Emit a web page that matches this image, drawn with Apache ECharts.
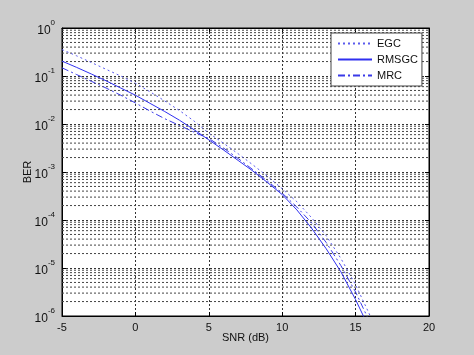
<!DOCTYPE html>
<html>
<head>
<meta charset="utf-8">
<script src="https://cdn.jsdelivr.net/npm/echarts@6/dist/echarts.min.js"></script>
<style>
html,body{margin:0;padding:0;background:#cccccc;}
#c{width:474px;height:355px;}
</style>
</head>
<body>
<div id="c"></div>
<script>
// SNR (dB)
var snr = [-5,-4,-3,-2,-1,0,1,2,3,4,5,6,7,8,9,10,11,12,13,14,15,16];
// BER values
var egc = [0.355,0.263,0.191,0.138,0.100,0.0708,0.0468,0.0302,0.0191,0.0115,0.00646,0.00398,0.00240,0.00141,8.13e-4,4.47e-4,2.40e-4,1.12e-4,4.68e-5,1.58e-5,4.47e-6,1.0e-6];
var rmsgc = [0.204,0.151,0.110,0.0794,0.0562,0.0398,0.0269,0.0182,0.0120,0.00759,0.00468,0.00288,0.00174,0.00105,6.03e-4,3.39e-4,1.62e-4,6.76e-5,2.51e-5,8.32e-6,2.19e-6,5.0e-7];
var mrc = [0.148,0.107,0.0776,0.0562,0.0398,0.0275,0.0186,0.0129,0.00933,0.00676,0.00501,0.00316,0.00191,0.00112,6.46e-4,3.63e-4,1.86e-4,8.71e-5,3.39e-5,1.12e-5,3.16e-6,7.08e-7];
var seriesNames = ['EGC','RMSGC','MRC'];
var xTicks = [-5,0,5,10,15,20];
var xRange = [-5, 20];

function pairs(ys){ return snr.map(function(x,i){ return [x, ys[i]]; }); }

var font = 'Liberation Sans, Arial, sans-serif';
var gridStyle = {color: '#333', width: 1, type: [2, 2]};

// minor log grid lines (2..9 x 10^d), drawn as plain line series through the axes
var gridSeries = [];
for (var d = -6; d < 0; d++) {
  for (var m = 2; m <= 9; m++) {
    var v = m * Math.pow(10, d);
    gridSeries.push({
      type: 'line', data: [[xRange[0], v], [xRange[1], v]],
      symbol: 'none', silent: true, z: 1, animation: false,
      lineStyle: {color: '#444', width: 1, type: [2, 2]}
    });
  }
}

var blue = '#3030f0';
var dataSeries = [
  {
    name: 'EGC', type: 'line', data: pairs(egc), showSymbol: false, symbol: 'none',
    smooth: false, clip: true, z: 5,
    lineStyle: {color: '#5a5aee', width: 1, type: [2, 3]}, itemStyle: {color: '#5a5aee'}
  },
  {
    name: 'RMSGC', type: 'line', data: pairs(rmsgc), showSymbol: false, symbol: 'none',
    smooth: false, clip: true, z: 6,
    lineStyle: {color: blue, width: 1, type: 'solid'}, itemStyle: {color: blue}
  },
  {
    name: 'MRC', type: 'line', data: pairs(mrc), showSymbol: false, symbol: 'none',
    smooth: false, clip: true, z: 5,
    lineStyle: {color: '#3a3ae8', width: 1, type: [7, 3, 2, 3]}, itemStyle: {color: '#3a3ae8'}
  }
];

var chart = echarts.init(document.getElementById('c'));
chart.setOption({
  backgroundColor: '#cccccc',
  animation: false,
  grid: {left: 62, right: 45, top: 28, bottom: 39, show: true, backgroundColor: '#ffffff', borderColor: '#000', borderWidth: 1},
  legend: {
    data: seriesNames,
    orient: 'vertical',
    left: 331, top: 33,
    itemWidth: 34, itemHeight: 10, itemGap: 5,
    padding: [5, 4, 5, 6],
    backgroundColor: '#ffffff',
    borderColor: '#444', borderWidth: 1,
    itemStyle: {opacity: 0},
    textStyle: {fontFamily: font, fontSize: 11, color: '#111'}
  },
  xAxis: [{
    type: 'value', min: -5, max: 20, interval: 5,
    name: 'SNR (dB)', nameLocation: 'middle', nameGap: 16, nameMoveOverlap: false,
    nameTextStyle: {fontFamily: font, fontSize: 11, color: '#111'},
    axisLine: {show: true, onZero: false, lineStyle: {color: '#000'}},
    axisTick: {show: true, inside: true, length: 4, lineStyle: {color: '#000'}},
    axisLabel: {fontFamily: font, fontSize: 11, color: '#111', margin: 6,
      formatter: function(v){ return xTicks.indexOf(v) >= 0 ? String(v) : ''; }},
    splitLine: {show: true, lineStyle: gridStyle}
  }, {
    type: 'value', min: -5, max: 20, interval: 5, position: 'top',
    axisLine: {show: true, onZero: false, lineStyle: {color: '#000'}},
    axisTick: {show: true, inside: true, length: 4, lineStyle: {color: '#000'}},
    axisLabel: {show: false}, splitLine: {show: false}
  }],
  yAxis: [{
    type: 'log', logBase: 10, min: 1e-6, max: 1,
    name: 'BER', nameLocation: 'middle', nameGap: 29, nameRotate: 90, nameMoveOverlap: false,
    nameTextStyle: {fontFamily: font, fontSize: 11, color: '#111'},
    axisLine: {show: true, onZero: false, lineStyle: {color: '#000'}},
    axisTick: {show: true, inside: true, length: 4, lineStyle: {color: '#000'}},
    axisLabel: {
      margin: 7,
      formatter: function(v){
        var e = Math.round(Math.log10(v));
        return '{b|10}{s|' + e + '}';
      },
      rich: {
        b: {fontFamily: font, fontSize: 12, color: '#111', lineHeight: 18, verticalAlign: 'bottom'},
        s: {fontFamily: font, fontSize: 8, color: '#111', lineHeight: 18, verticalAlign: 'top'}
      }
    },
    splitLine: {show: true, lineStyle: gridStyle}
  }, {
    type: 'log', logBase: 10, min: 1e-6, max: 1, position: 'right',
    axisLine: {show: true, onZero: false, lineStyle: {color: '#000'}},
    axisTick: {show: true, inside: true, length: 4, lineStyle: {color: '#000'}},
    axisLabel: {show: false}, splitLine: {show: false}
  }],
  series: dataSeries.concat(gridSeries)
});
</script>
</body>
</html>
